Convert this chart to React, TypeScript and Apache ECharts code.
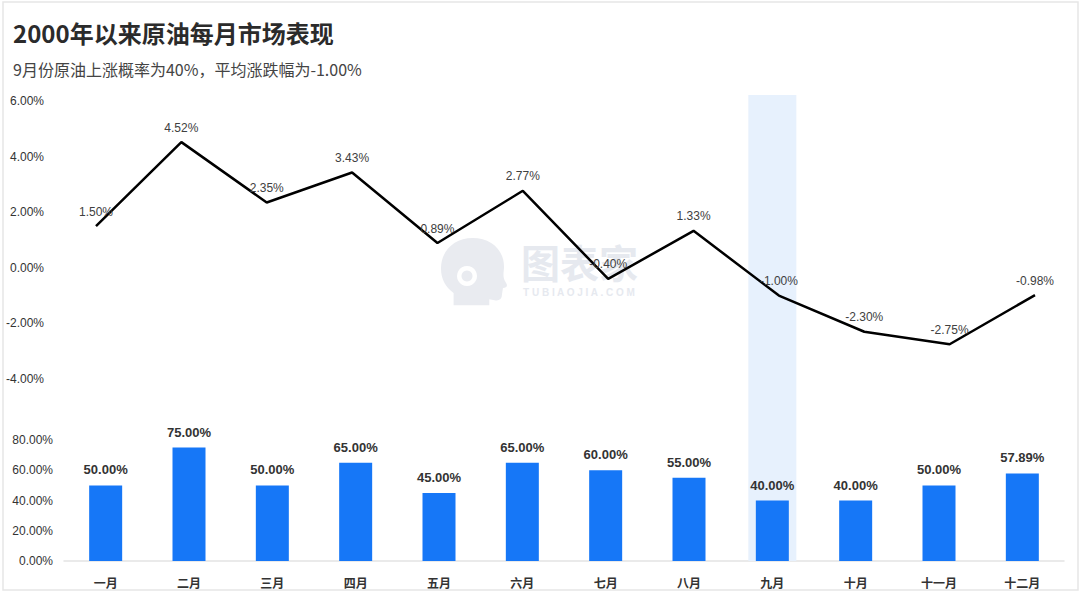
import React, { useEffect, useRef } from "react";
import * as echarts from "echarts";

const months = ["一月", "二月", "三月", "四月", "五月", "六月", "七月", "八月", "九月", "十月", "十一月", "十二月"];
const avgChange = [1.5, 4.52, 2.35, 3.43, 0.89, 2.77, -0.4, 1.33, -1.0, -2.3, -2.75, -0.98];
const riseProb = [50, 75, 50, 65, 45, 65, 60, 55, 40, 40, 50, 57.89];
const highlightMonth = "九月";
const titleText = "2000年以来原油每月市场表现";
const subText = "9月份原油上涨概率为40%，平均涨跌幅为-1.00%";

const LATIN = "'Liberation Sans', Arial, 'Noto Sans CJK SC', sans-serif";
const CJK = "'Noto Sans CJK SC', 'Noto Sans', sans-serif";

const headPath =
  "M30 0 C48 0 60 12 60 28 C60 34 58 38 62 44 C64 47 62 49 59 49 L58 56 C58 60 55 62 51 61 L46 60 L46 66 L12 66 L12 54 C4 48 0 40 0 30 C0 12 13 0 30 0 Z";

export default function App() {
  const ref = useRef<HTMLDivElement>(null);
  useEffect(() => {
    if (!ref.current) return;
    echarts.graphic.registerShape("head", echarts.graphic.extendPath(headPath, {}));
    const chart = echarts.init(ref.current, null, { renderer: "svg" });
    const band = months.map((m) => (m === highlightMonth ? 1 : null));
    const pct = (v: number) => v.toFixed(2) + "%";
    chart.setOption({
      animation: false,
      backgroundColor: "#ffffff",
      textStyle: { fontFamily: LATIN },
      title: [
        {
          text: titleText,
          left: 8,
          top: 15,
          textStyle: { fontFamily: CJK, fontSize: 24, fontWeight: "bold", color: "#2b2b2b" },
        },
        {
          text: subText,
          left: 8,
          top: 56,
          textStyle: { fontFamily: CJK, fontSize: 16, fontWeight: "normal", color: "#444444" },
        },
      ],
      graphic: [
        {
          type: "rect",
          shape: { x: 3, y: 2, width: 1075, height: 588 },
          style: { fill: "none", stroke: "#e6e6e6", lineWidth: 1.5 },
          silent: true,
          z: -1,
        },
        {
          type: "group",
          left: 441,
          top: 238,
          silent: true,
          z: 0,
          children: [
            { type: "head", x: 0, y: 0, scaleX: 1.05, scaleY: 1.02, style: { fill: "#e9ebf0" } },
            { type: "circle", shape: { cx: 26, cy: 38, r: 10 }, style: { fill: "#ffffff" } },
            { type: "circle", shape: { cx: 26, cy: 38, r: 5.5 }, style: { fill: "#e9ebf0" } },
            {
              type: "text",
              x: 80,
              y: 3,
              style: { text: "图表家", fontSize: 39, fontWeight: "bold", fontFamily: CJK, fill: "#e6e9ef" },
            },
            {
              type: "text",
              x: 82,
              y: 49,
              style: { text: "T U B I A O J I A . C O M", fontSize: 10, fontWeight: "bold", fontFamily: LATIN, fill: "#e6e9ef" },
            },
          ],
        },
      ],
      grid: [
        { left: 96, right: 45, top: 101, height: 278 },
        { left: 64, right: 16, top: 440, height: 121 },
        { left: 64, right: 16, top: 95, bottom: 33 },
      ],
      xAxis: [
        { gridIndex: 0, type: "category", data: months, boundaryGap: false, show: false },
        {
          gridIndex: 1,
          type: "category",
          data: months,
          axisLine: { lineStyle: { color: "#e3e3e3", width: 1.5 } },
          axisTick: { show: false },
          axisLabel: { margin: 15, fontSize: 12, fontWeight: "bold", color: "#333333", fontFamily: CJK },
        },
        { gridIndex: 2, type: "category", data: months, show: false },
      ],
      yAxis: [
        {
          gridIndex: 0,
          type: "value",
          min: -4,
          max: 6,
          interval: 2,
          axisLine: { show: false },
          axisTick: { show: false },
          splitLine: { show: false },
          axisLabel: { margin: 52, fontSize: 12, color: "#333333", formatter: pct },
        },
        {
          gridIndex: 1,
          type: "value",
          min: 0,
          max: 80,
          interval: 20,
          axisLine: { show: false },
          axisTick: { show: false },
          splitLine: { show: false },
          axisLabel: { margin: 11, fontSize: 12, color: "#333333", formatter: pct },
        },
        { gridIndex: 2, type: "value", min: 0, max: 1, show: false },
      ],
      series: [
        {
          type: "bar",
          xAxisIndex: 2,
          yAxisIndex: 2,
          data: band,
          barWidth: 48,
          silent: true,
          itemStyle: { color: "#e7f1fd" },
          z: 1,
        },
        {
          type: "line",
          xAxisIndex: 0,
          yAxisIndex: 0,
          data: avgChange,
          showSymbol: true,
          symbol: "circle",
          symbolSize: 1,
          itemStyle: { color: "#000000", opacity: 0 },
          lineStyle: { color: "#000000", width: 2.5, opacity: 1 },
          label: {
            show: true,
            position: "top",
            distance: 8,
            fontSize: 12,
            color: "#404040",
            opacity: 1,
            formatter: (p: any) => pct(p.value),
          },
          labelLayout: { hideOverlap: false },
          z: 3,
        },
        {
          type: "bar",
          xAxisIndex: 1,
          yAxisIndex: 1,
          data: riseProb,
          barWidth: 33,
          itemStyle: { color: "#1677f7" },
          label: {
            show: true,
            position: "top",
            distance: 9,
            fontSize: 13,
            fontWeight: "bold",
            color: "#333333",
            formatter: (p: any) => pct(p.value),
          },
          z: 3,
        },
      ],
    });
    return () => chart.dispose();
  }, []);
  return <div ref={ref} style={{ position: "fixed", left: 0, top: 0, width: 1080, height: 594 }} />;
}
